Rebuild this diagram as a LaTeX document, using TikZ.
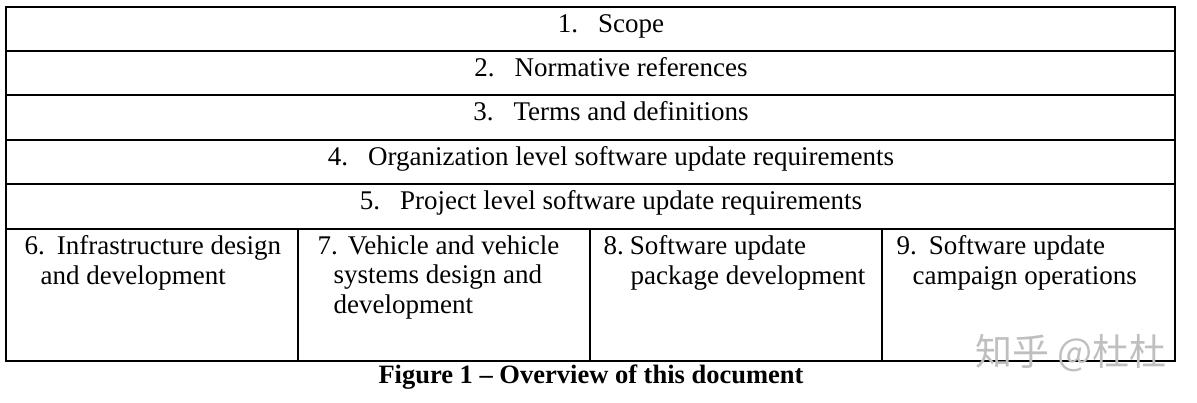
\documentclass[tikz,border=0pt]{standalone}
\usepackage{fontspec}
\setmainfont{Liberation Serif}
\newfontfamily\cjk{Noto Sans CJK SC}
\usetikzlibrary{positioning}

\tikzset{
  rowtext/.style={anchor=base,inner sep=0pt,font=\fontsize{27}{29.5}\selectfont},
  celltext/.style={anchor=north west,align=left,inner sep=0pt,font=\fontsize{27}{29.5}\selectfont},
}

\begin{document}
\begin{tikzpicture}[x=1pt,y=-1pt,line width=1.2pt]
            \useasboundingbox (0,0) rectangle (1197,403);
            \fill[white] (0,0) rectangle (1197,403);
            \draw (6,7) rectangle (1175,361);
            \foreach \y in {51,95,140,184,229}
                \draw (6,\y) -- (1175,\y);
            \foreach \x in {298,590,882}
                \draw (\x,229) -- (\x,361);
            % top rows
            \node[rowtext] (scope) at (611,33) {1.\hspace{20pt}Scope};
            \node[rowtext] (normref) at (611,77) {2.\hspace{20pt}Normative references};
            \node[rowtext] (terms) at (611,121) {3.\hspace{20pt}Terms and definitions};
            \node[rowtext] (orglevel) at (611,166) {4.\hspace{20pt}Organization level software update requirements};
            \node[rowtext] (projlevel) at (611,210) {5.\hspace{20pt}Project level software update requirements};
            % bottom cells
            \node[celltext] (infra) at (24,235) {6.\hspace{12pt}Infrastructure design\\\hspace*{16pt}and development};
            \node[celltext] (vehicle) at (317,235) {7.\hspace{10pt}Vehicle and vehicle\\\hspace*{16pt}systems design and\\\hspace*{16pt}development};
            \node[celltext] (package) at (603,235) {8.\hspace{6pt}Software update\\\hspace*{27pt}package development};
            \node[celltext] (campaign) at (896,235) {9.\hspace{12pt}Software update\\\hspace*{16pt}campaign operations};
            % caption and watermark
            \node[anchor=base,inner sep=0pt,font=\bfseries\fontsize{26.5}{30}\selectfont] (caption) at (591,383) {Figure 1 – Overview of this document};
            \node[anchor=base west,inner sep=0pt,text=gray!50,font=\cjk\fontsize{37}{37}\selectfont] (mark) at (975,366) {知乎 @杜杜};
\end{tikzpicture}
\end{document}
